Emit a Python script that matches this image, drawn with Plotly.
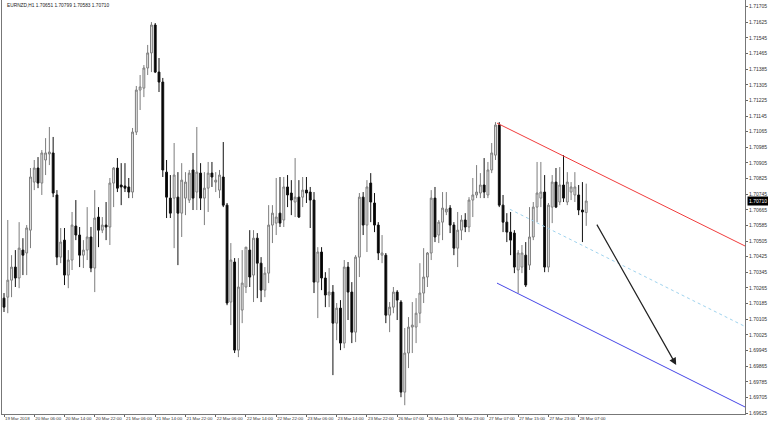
import plotly.graph_objects as go

symbol_title = "EURNZD,H1 1.70651 1.70799 1.70583 1.70710"
last_price = 1.70710

open_ = [
1.70213, 1.70218, 1.70305, 1.70372, 1.70316, 1.70459, 1.70444, 1.70561, 1.70807, 1.70879,
1.70802, 1.70920, 1.70951, 1.70956, 1.70741, 1.70423, 1.70510, 1.70331, 1.70408, 1.70582,
1.70536, 1.70433, 1.70459, 1.70526, 1.70367, 1.70628, 1.70561, 1.70587, 1.70577, 1.70802,
1.70879, 1.70792, 1.70787, 1.70782, 1.70756, 1.71063, 1.71278, 1.71288, 1.71391, 1.71468,
1.71611, 1.71370, 1.71319, 1.70858, 1.70725, 1.70725, 1.70730, 1.70648, 1.70725, 1.70715,
1.70869, 1.70756, 1.70853, 1.70725, 1.70776, 1.70853, 1.70807, 1.70766, 1.70833, 1.70689,
1.70193, 1.70398, 1.69947, 1.70152, 1.70270, 1.70459, 1.70331, 1.70520, 1.70392, 1.70254,
1.70341, 1.70587, 1.70597, 1.70648, 1.70613, 1.70782, 1.70751, 1.70705, 1.70730, 1.70730,
1.70766, 1.70756, 1.70715, 1.70295, 1.70449, 1.70316, 1.70229, 1.70244, 1.70085, 1.70162,
1.69983, 1.70372, 1.70244, 1.70039, 1.70423, 1.70730, 1.70587, 1.70802, 1.70700, 1.70587,
1.70433, 1.70433, 1.70126, 1.70167, 1.70244, 1.70193, 1.69732, 1.69932, 1.70065, 1.70065,
1.70136, 1.70239, 1.70321, 1.70444, 1.70725, 1.70536, 1.70602, 1.70654, 1.70674, 1.70587,
1.70469, 1.70561, 1.70613, 1.70577, 1.70715, 1.70741, 1.70751, 1.70792, 1.70741, 1.70869,
1.70945, 1.71099, 1.70689, 1.70602, 1.70551, 1.70546, 1.70357, 1.70372, 1.70433, 1.70382,
1.70526, 1.70679, 1.70725, 1.70756, 1.70372, 1.70679, 1.70807, 1.70705, 1.70792, 1.70705,
1.70756, 1.70741, 1.70741, 1.70664, 1.70651]

high = [
1.70239, 1.70613, 1.70433, 1.70459, 1.70602, 1.70520, 1.70587, 1.70879, 1.70920, 1.70935,
1.70971, 1.71032, 1.71089, 1.71038, 1.70766, 1.70572, 1.70572, 1.70459, 1.70654, 1.70715,
1.70577, 1.70510, 1.70679, 1.70577, 1.70766, 1.70679, 1.70628, 1.70705, 1.70828, 1.70884,
1.70930, 1.70904, 1.70904, 1.70828, 1.71084, 1.71299, 1.71355, 1.71406, 1.71509, 1.71626,
1.71621, 1.71442, 1.71340, 1.70920, 1.70843, 1.71007, 1.70858, 1.70904, 1.70858, 1.70869,
1.70956, 1.71089, 1.70904, 1.70858, 1.70910, 1.70910, 1.70858, 1.70869, 1.71012, 1.70700,
1.70495, 1.70418, 1.70418, 1.70459, 1.70474, 1.70561, 1.70561, 1.70546, 1.70423, 1.70372,
1.70689, 1.70689, 1.70828, 1.70833, 1.70833, 1.70843, 1.70817, 1.70930, 1.70817, 1.70833,
1.70833, 1.70782, 1.70756, 1.70474, 1.70474, 1.70346, 1.70367, 1.70280, 1.70188, 1.70203,
1.70408, 1.70398, 1.70295, 1.70433, 1.70751, 1.70756, 1.70817, 1.70853, 1.70751, 1.70602,
1.70536, 1.70444, 1.70193, 1.70270, 1.70254, 1.70203, 1.70060, 1.70116, 1.70193, 1.70213,
1.70392, 1.70469, 1.70449, 1.70766, 1.70782, 1.70613, 1.70756, 1.70756, 1.70689, 1.70602,
1.70654, 1.70638, 1.70648, 1.70730, 1.70828, 1.70894, 1.70853, 1.70930, 1.70910, 1.71007,
1.71114, 1.71114, 1.70741, 1.70648, 1.70654, 1.70561, 1.70459, 1.70485, 1.70500, 1.70679,
1.70705, 1.70910, 1.70910, 1.70843, 1.70700, 1.70843, 1.70879, 1.70884, 1.70945, 1.70858,
1.70807, 1.70858, 1.70792, 1.70807, 1.70799]

low = [
1.70142, 1.70136, 1.70218, 1.70270, 1.70264, 1.70331, 1.70331, 1.70469, 1.70766, 1.70776,
1.70741, 1.70843, 1.70894, 1.70730, 1.70382, 1.70392, 1.70280, 1.70264, 1.70357, 1.70510,
1.70372, 1.70367, 1.70408, 1.70346, 1.70244, 1.70474, 1.70546, 1.70510, 1.70485, 1.70679,
1.70756, 1.70689, 1.70756, 1.70725, 1.70725, 1.71048, 1.71176, 1.71242, 1.71355, 1.71370,
1.71365, 1.71268, 1.70833, 1.70623, 1.70623, 1.70469, 1.70382, 1.70526, 1.70638, 1.70700,
1.70664, 1.70664, 1.70664, 1.70587, 1.70654, 1.70782, 1.70756, 1.70725, 1.70679, 1.70177,
1.70075, 1.69932, 1.69911, 1.70085, 1.70239, 1.70270, 1.70193, 1.70213, 1.70193, 1.70218,
1.70290, 1.70495, 1.70536, 1.70577, 1.70577, 1.70679, 1.70638, 1.70628, 1.70623, 1.70679,
1.70700, 1.70572, 1.70239, 1.70111, 1.70254, 1.70167, 1.70167, 1.69819, 1.69998, 1.69947,
1.69957, 1.70101, 1.69983, 1.69988, 1.70321, 1.70536, 1.70449, 1.70602, 1.70551, 1.70408,
1.70392, 1.70085, 1.70039, 1.70136, 1.70101, 1.69706, 1.69665, 1.69855, 1.69932, 1.69983,
1.70085, 1.70188, 1.70270, 1.70408, 1.70500, 1.70495, 1.70510, 1.70638, 1.70546, 1.70433,
1.70372, 1.70510, 1.70551, 1.70551, 1.70628, 1.70725, 1.70725, 1.70725, 1.70725, 1.70853,
1.70920, 1.70679, 1.70551, 1.70500, 1.70433, 1.70341, 1.70239, 1.70341, 1.70270, 1.70357,
1.70510, 1.70602, 1.70679, 1.70346, 1.70346, 1.70597, 1.70674, 1.70689, 1.70705, 1.70689,
1.70715, 1.70705, 1.70638, 1.70500, 1.70583]

close = [
1.70167, 1.70305, 1.70372, 1.70316, 1.70469, 1.70433, 1.70572, 1.70833, 1.70879, 1.70802,
1.70956, 1.70956, 1.70961, 1.70751, 1.70423, 1.70500, 1.70331, 1.70408, 1.70587, 1.70536,
1.70433, 1.70459, 1.70526, 1.70367, 1.70623, 1.70561, 1.70587, 1.70577, 1.70802, 1.70879,
1.70776, 1.70782, 1.70776, 1.70756, 1.71063, 1.71278, 1.71294, 1.71391, 1.71468, 1.71611,
1.71370, 1.71319, 1.70869, 1.70730, 1.70648, 1.70843, 1.70648, 1.70817, 1.70807, 1.70853,
1.70725, 1.70858, 1.70725, 1.70776, 1.70853, 1.70833, 1.70817, 1.70843, 1.70689, 1.70188,
1.70408, 1.69947, 1.70270, 1.70290, 1.70474, 1.70321, 1.70520, 1.70392, 1.70254, 1.70341,
1.70587, 1.70648, 1.70628, 1.70597, 1.70782, 1.70741, 1.70715, 1.70730, 1.70628, 1.70766,
1.70751, 1.70715, 1.70295, 1.70449, 1.70316, 1.70229, 1.70244, 1.70085, 1.70162, 1.69983,
1.70372, 1.70244, 1.70039, 1.70423, 1.70730, 1.70587, 1.70782, 1.70705, 1.70587, 1.70444,
1.70444, 1.70126, 1.70167, 1.70244, 1.70203, 1.69732, 1.69932, 1.70065, 1.70075, 1.70136,
1.70239, 1.70321, 1.70444, 1.70725, 1.70526, 1.70602, 1.70674, 1.70669, 1.70587, 1.70469,
1.70561, 1.70613, 1.70577, 1.70715, 1.70741, 1.70756, 1.70792, 1.70756, 1.70869, 1.70956,
1.71099, 1.70689, 1.70602, 1.70551, 1.70510, 1.70372, 1.70444, 1.70444, 1.70280, 1.70526,
1.70679, 1.70751, 1.70756, 1.70372, 1.70689, 1.70807, 1.70679, 1.70792, 1.70725, 1.70807,
1.70782, 1.70782, 1.70664, 1.70654, 1.70710]

# time-axis labels (one every 8 hourly bars)
time_labels = ["19 Mar 2018", "20 Mar 06:00", "20 Mar 14:00", "20 Mar 22:00", "21 Mar 06:00",
               "21 Mar 14:00", "21 Mar 22:00", "22 Mar 06:00", "22 Mar 14:00", "22 Mar 22:00",
               "23 Mar 06:00", "23 Mar 14:00", "23 Mar 22:00", "26 Mar 07:00", "26 Mar 15:00",
               "26 Mar 23:00", "27 Mar 07:00", "27 Mar 15:00", "27 Mar 23:00", "28 Mar 07:00"]
label_step = 8

# price-axis labels
price_ticks = [1.69625, 1.69705, 1.69785, 1.69865, 1.69945, 1.70025, 1.70105, 1.70185, 1.70265,
               1.70345, 1.70425, 1.70505, 1.70585, 1.70665, 1.70745, 1.70825, 1.70905, 1.70985,
               1.71065, 1.71145, 1.71225, 1.71305, 1.71385, 1.71465, 1.71545, 1.71625, 1.71705]

# drawn channel (bar index, price) and arrow
channel_idx = [130.4, 196.0]
channel_upper = [1.71109, 1.70480]
channel_lower = [1.70290, 1.69656]
mid_idx = [133.8, 196.0]
channel_mid = [1.70668, 1.70068]
arrow_idx = [156.6, 177.8]
arrow_price = [1.70597, 1.69871]

idx = list(range(len(close)))
tick_idx = [i * label_step for i in range(len(time_labels))]

FONT = "Liberation Sans"

fig = go.Figure()
fig.add_trace(go.Candlestick(
    x=idx, open=open_, high=high, low=low, close=close,
    increasing=dict(line=dict(color="#7d7d7d", width=1), fillcolor="#eeeeee"),
    decreasing=dict(line=dict(color="#111111", width=1), fillcolor="#000000"),
    whiskerwidth=0, showlegend=False, hoverinfo="skip"))

fig.add_trace(go.Scatter(x=channel_idx, y=channel_upper, mode="lines",
                         line=dict(color="#f03c3c", width=1), showlegend=False, hoverinfo="skip"))
fig.add_trace(go.Scatter(x=channel_idx, y=channel_lower, mode="lines",
                         line=dict(color="#4646e6", width=1), showlegend=False, hoverinfo="skip"))
fig.add_trace(go.Scatter(x=mid_idx, y=channel_mid, mode="lines",
                         line=dict(color="#9fd3ee", width=1, dash="dot"), showlegend=False, hoverinfo="skip"))

fig.add_annotation(x=arrow_idx[1], y=arrow_price[1], ax=arrow_idx[0], ay=arrow_price[0],
                   xref="x", yref="y", axref="x", ayref="y", text="", showarrow=True,
                   arrowhead=2, arrowsize=1.2, arrowwidth=1.2, arrowcolor="#222222")

fig.add_annotation(x=0, y=1, xref="paper", yref="paper", xanchor="left", yanchor="top",
                   xshift=3, yshift=-1, text=symbol_title, showarrow=False,
                   font=dict(family=FONT, size=4.8, color="#222222"))

fig.add_annotation(x=1, y=last_price, xref="paper", yref="y", xanchor="left", yanchor="middle",
                   xshift=2, text=f"{last_price:.5f}", showarrow=False, bgcolor="#000000",
                   borderpad=1, font=dict(family=FONT, size=5, color="#ffffff"))

fig.update_layout(
    width=768, height=425,
    margin=dict(l=2, r=23, t=0, b=11, autoexpand=False),
    paper_bgcolor="#ffffff", plot_bgcolor="#ffffff",
    xaxis=dict(range=[-0.53, 196], tickvals=tick_idx, ticktext=time_labels,
               tickangle=0, automargin=False,
               ticks="outside", ticklen=2, tickcolor="#666666", showline=True,
               linecolor="#777777", linewidth=1, showgrid=False, zeroline=False,
               ticklabelposition="outside right", rangeslider=dict(visible=False),
               tickfont=dict(family=FONT, size=4.4, color="#333333")),
    yaxis=dict(range=[1.69620, 1.71739], side="right", tickvals=price_ticks,
               tickformat=".5f", ticks="outside", ticklen=2, tickcolor="#666666",
               automargin=False,
               showline=True, mirror=True, linecolor="#777777", linewidth=1,
               showgrid=False, zeroline=False,
               tickfont=dict(family=FONT, size=5, color="#333333")),
)

fig.write_html("out.html", config={"displayModeBar": False},
               post_script="document.body.style.margin='0px';document.body.style.overflow='hidden';")
